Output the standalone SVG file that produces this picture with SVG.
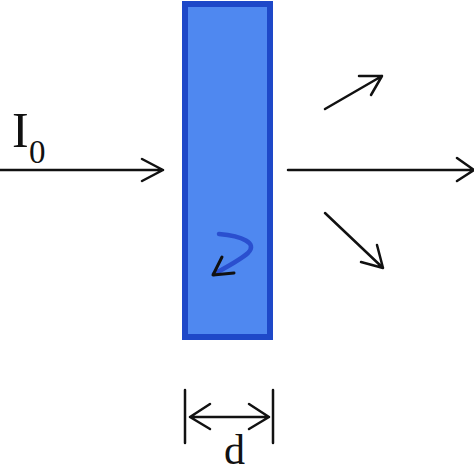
<svg xmlns="http://www.w3.org/2000/svg" width="474" height="474" viewBox="0 0 474 474">
<style>
.ln{stroke:#111;stroke-width:2.5;fill:none;stroke-linecap:round;stroke-linejoin:round}
.tx{font-family:"Liberation Serif","Times New Roman",serif;fill:#111}
</style>
<rect width="474" height="474" fill="#fff"/>
<g id="slab">
<rect x="185" y="4" width="85" height="333" fill="#4f88f0" stroke="#1e48c8" stroke-width="6"/>
<path d="M219,234 C242,236 258,243 248,253 C240,260 227,267 214,274" fill="none" stroke="#2a4fcf" stroke-width="4.5" stroke-linecap="round"/>
<path d="M222,257 L213,275 L234,273" fill="none" stroke="#111" stroke-width="3" stroke-linecap="round" stroke-linejoin="round"/>
</g>
<g id="label-I0">
<text class="tx" x="12" y="147" font-size="50">I</text>
<text class="tx" x="29" y="163" font-size="33">0</text>
</g>
<g id="label-d">
<text class="tx" x="224" y="464" font-size="42">d</text>
</g>
<g id="connectors">
<path class="ln" d="M0,170 H163 M142,159 L163,170 L142,181"/>
<path class="ln" d="M288,170 H473 M457,158 L474,170 L457,181"/>
<path class="ln" d="M325,109 L382,76 M359,76 L382,76 L371,95"/>
<path class="ln" d="M325,213 L383,268 M361,262 L383,268 L377,245"/>
<path class="ln" d="M185,390 V443 M273,390 V443 M190,417 H269 M210,404 L190,417 L210,429 M249,404 L269,417 L249,429"/>
</g>
</svg>
